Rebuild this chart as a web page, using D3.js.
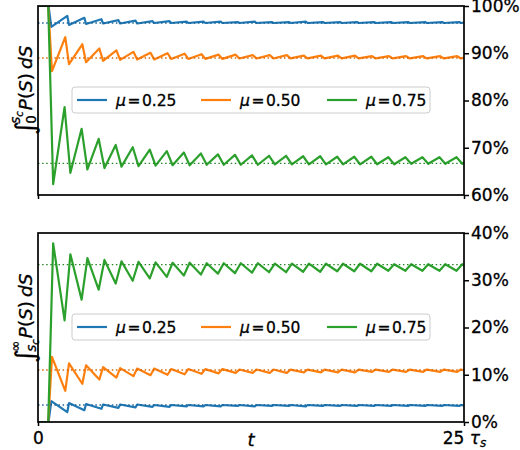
<!DOCTYPE html>
<html>
<head>
<meta charset="utf-8">
<script src="https://cdn.jsdelivr.net/npm/d3@7"></script>
<style>
body { margin: 0; background: #fff; }
text { font-family: "DejaVu Sans", sans-serif; }
</style>
</head>
<body>
<div id="chart"></div>
<script>
// times of the sawtooth corners, in units of tau_s (same for both panels)
var tBlue = [0, 0.62, 0.78,
  1.72, 1.82, 2.72, 2.82, 3.72, 3.82, 4.72, 4.82, 5.72, 5.82,
  6.72, 6.82, 7.72, 7.82, 8.72, 8.82, 9.72, 9.82, 10.72, 10.82,
  11.72, 11.82, 12.72, 12.82, 13.72, 13.82, 14.72, 14.82, 15.72, 15.82,
  16.72, 16.82, 17.72, 17.82, 18.72, 18.82, 19.72, 19.82, 20.72, 20.82,
  21.72, 21.82, 22.72, 22.82, 23.72, 23.82, 24.72, 24.82, 25];
var tOrange = [0, 0.6, 0.82,
  1.6, 1.82, 2.6, 2.82, 3.6, 3.82, 4.6, 4.82, 5.6, 5.82,
  6.6, 6.82, 7.6, 7.82, 8.6, 8.82, 9.6, 9.82, 10.6, 10.82,
  11.6, 11.82, 12.6, 12.82, 13.6, 13.82, 14.6, 14.82, 15.6, 15.82,
  16.6, 16.82, 17.6, 17.82, 18.6, 18.82, 19.6, 19.82, 20.6, 20.82,
  21.6, 21.82, 22.6, 22.82, 23.6, 23.82, 24.6, 24.82, 25];
var tGreen = [0, 0.6, 0.89,
  1.56, 1.9, 2.56, 2.9, 3.56, 3.9, 4.56, 4.9, 5.56, 5.9,
  6.56, 6.9, 7.56, 7.9, 8.56, 8.9, 9.56, 9.9, 10.56, 10.9,
  11.56, 11.9, 12.56, 12.9, 13.56, 13.9, 14.56, 14.9, 15.56, 15.9,
  16.56, 16.9, 17.56, 17.9, 18.56, 18.9, 19.56, 19.9, 20.56, 20.9,
  21.56, 21.9, 22.56, 22.9, 23.56, 23.9, 24.56, 24.9, 25];

// top panel: share below s_c (%)
var belowBlue = [100, 100, 95.6,
  97.9, 96.0, 97.5, 96.2, 97.2, 96.3, 97.0, 96.3, 96.9, 96.3,
  96.8, 96.4, 96.8, 96.4, 96.7, 96.4, 96.7, 96.4, 96.7, 96.4,
  96.6, 96.4, 96.7, 96.4, 96.6, 96.4, 96.6, 96.4, 96.7, 96.4,
  96.6, 96.4, 96.6, 96.4, 96.6, 96.4, 96.6, 96.4, 96.6, 96.4,
  96.6, 96.4, 96.6, 96.4, 96.6, 96.4, 96.6, 96.4, 96.5];
var belowOrange = [100, 100, 86.2,
  93.4, 87.7, 91.9, 88.1, 91.0, 88.4, 90.6, 88.6, 90.3, 88.7,
  90.1, 88.7, 90.0, 88.8, 89.9, 88.8, 89.8, 88.8, 89.7, 88.8,
  89.7, 88.9, 89.6, 88.9, 89.6, 88.9, 89.6, 88.9, 89.5, 88.9,
  89.5, 88.9, 89.5, 88.9, 89.5, 88.9, 89.4, 88.9, 89.4, 88.9,
  89.4, 88.9, 89.4, 88.9, 89.4, 88.9, 89.4, 88.9, 89.1];
var belowGreen = [100, 100, 62.3,
  78.6, 64.7, 74.0, 65.4, 71.9, 65.7, 70.6, 66.0, 70.1, 66.1,
  69.6, 66.2, 69.3, 66.3, 69.0, 66.3, 68.8, 66.4, 68.6, 66.4,
  68.5, 66.4, 68.4, 66.4, 68.3, 66.5, 68.3, 66.5, 68.2, 66.5,
  68.2, 66.5, 68.1, 66.5, 68.1, 66.5, 68.1, 66.5, 68.0, 66.5,
  68.0, 66.6, 68.0, 66.6, 68.0, 66.6, 68.0, 66.6, 66.9];

// bottom panel: share above s_c (%)
var aboveBlue = [0, 0, 4.4,
  2.1, 4.0, 2.5, 3.8, 2.8, 3.7, 3.0, 3.7, 3.1, 3.7,
  3.2, 3.6, 3.2, 3.6, 3.3, 3.6, 3.3, 3.6, 3.3, 3.6,
  3.4, 3.6, 3.3, 3.6, 3.4, 3.6, 3.4, 3.6, 3.3, 3.6,
  3.4, 3.6, 3.4, 3.6, 3.4, 3.6, 3.4, 3.6, 3.4, 3.6,
  3.4, 3.6, 3.4, 3.6, 3.4, 3.6, 3.4, 3.6, 3.5];
var aboveOrange = [0, 0, 13.8,
  6.6, 12.4, 8.1, 12.0, 9.0, 11.6, 9.4, 11.4, 9.7, 11.3,
  9.9, 11.3, 10.0, 11.2, 10.1, 11.2, 10.2, 11.2, 10.3, 11.2,
  10.4, 11.1, 10.4, 11.1, 10.4, 11.1, 10.4, 11.1, 10.5, 11.1,
  10.5, 11.1, 10.5, 11.1, 10.5, 11.1, 10.6, 11.1, 10.6, 11.1,
  10.6, 11.1, 10.6, 11.1, 10.6, 11.1, 10.6, 11.1, 10.9];
var aboveGreen = [0, 0, 37.8,
  21.5, 35.5, 25.9, 34.7, 28.0, 34.3, 29.3, 34.0, 29.9, 33.9,
  30.4, 33.8, 30.7, 33.7, 31.0, 33.7, 31.2, 33.6, 31.4, 33.6,
  31.5, 33.6, 31.6, 33.6, 31.7, 33.5, 31.7, 33.5, 31.8, 33.5,
  31.8, 33.5, 31.9, 33.5, 31.9, 33.5, 31.9, 33.5, 32.0, 33.4,
  32.0, 33.4, 32.0, 33.4, 32.0, 33.4, 32.0, 33.4, 33.1];

// asymptotic levels (dotted)
var levelsBelow = [96.4, 89.0, 66.7];
var levelsAbove = [3.6, 11.0, 33.3];

var muLabels = ["0.25", "0.50", "0.75"];
var colors = ["#1f77b4", "#ff7f0e", "#2ca02c"];
var ticksBelow = [60, 70, 80, 90, 100];
var ticksAbove = [0, 10, 20, 30, 40];
var xTicks = [0, 25];

var width = 520, height = 450;
var left = 38, right = 464;

var svg = d3.select("#chart").append("svg")
  .attr("width", width)
  .attr("height", height);

var x = d3.scaleLinear().domain([0, 25]).range([left, right]);

function heavy(sel) {
  // the reference text is a bit blurred and heavy
  sel.attr("stroke", "#000").attr("stroke-width", 0.3);
}

function panel(id, top, bottom, domain, times, series, levels, ticks, showX, legendY, labelY, lo, hi) {
  var y = d3.scaleLinear().domain(domain).range([bottom, top]);

  svg.append("clipPath").attr("id", id)
    .append("rect").attr("x", left).attr("y", top)
    .attr("width", right - left).attr("height", bottom - top);

  var plot = svg.append("g").attr("clip-path", "url(#" + id + ")");
  var line = d3.line().x(function(d) { return x(d[0]); }).y(function(d) { return y(d[1]); });

  series.forEach(function(vals, i) {
    var pts = times[i].map(function(t, j) { return [t, vals[j]]; });
    plot.append("path")
      .attr("d", line(pts))
      .attr("fill", "none")
      .attr("stroke", colors[i])
      .attr("stroke-width", 2.2)
      .attr("stroke-linejoin", "round");
  });
  levels.forEach(function(v, i) {
    plot.append("line")
      .attr("x1", left).attr("x2", right)
      .attr("y1", y(v)).attr("y2", y(v))
      .attr("stroke", d3.color(colors[i]).darker(0.5))
      .attr("stroke-width", 1.4)
      .attr("stroke-dasharray", "1.5,2.6");
  });

  // right axis
  var ax = svg.append("g")
    .attr("transform", "translate(" + right + ",0)")
    .call(d3.axisRight(y).tickValues(ticks).tickSize(5).tickSizeOuter(0).tickPadding(2)
      .tickFormat(function(d) { return d + "%"; }));
  ax.select(".domain").remove();
  ax.selectAll("line").attr("stroke-width", 1.5);
  ax.selectAll("text").attr("font-size", "17px").attr("font-family", "DejaVu Sans").attr("fill", "#000").call(heavy);

  // bottom axis
  var bx = svg.append("g")
    .attr("transform", "translate(0," + bottom + ")")
    .call(d3.axisBottom(x).tickValues(xTicks).tickSize(4).tickSizeOuter(0).tickPadding(6)
      .tickFormat(function(d) { return showX ? d : ""; }));
  bx.select(".domain").remove();
  bx.selectAll("line").attr("stroke-width", 1.5);
  bx.selectAll("text").attr("font-size", "17px").attr("font-family", "DejaVu Sans").attr("fill", "#000")
    .call(heavy)
    .each(function(d) {
      if (showX && d === 25) {
        var el = d3.select(this).text(null);
        el.append("tspan").text("25 ");
        el.append("tspan").attr("font-style", "italic").text("τ");
        el.append("tspan").attr("font-style", "italic").attr("font-size", "12px").attr("dy", "0.25em").text("s");
      }
    });

  // frame
  svg.append("rect")
    .attr("x", left).attr("y", top)
    .attr("width", right - left).attr("height", bottom - top)
    .attr("fill", "none").attr("stroke", "#000").attr("stroke-width", 1.7);

  // legend
  var lg = svg.append("g");
  lg.append("rect")
    .attr("x", 72).attr("y", legendY - 13)
    .attr("width", 358).attr("height", 26).attr("rx", 3)
    .attr("fill", "#fff").attr("fill-opacity", 0.8)
    .attr("stroke", "#cccccc").attr("stroke-width", 1);
  var lx = [77, 201, 327];
  muLabels.forEach(function(m, i) {
    lg.append("line")
      .attr("x1", lx[i]).attr("x2", lx[i] + 30)
      .attr("y1", legendY).attr("y2", legendY)
      .attr("stroke", colors[i]).attr("stroke-width", 2.2);
    var tx = lg.append("text")
      .attr("x", lx[i] + 39).attr("y", legendY + 5.5)
      .attr("font-size", "15.5px")
      .call(heavy);
    tx.append("tspan").attr("font-style", "italic").text("μ");
    tx.append("tspan").attr("dx", 1.5).text("=");
    tx.append("tspan").attr("dx", 1.5).text(m);
  });

  // y label: integral
  var g = svg.append("g");
  var inner = g.append("g");
  inner.append("text").attr("x", 0).attr("y", 2).attr("font-size", "26px").call(heavy).text("∫");
  function script(pieces, yy) {
    var t = inner.append("text").attr("x", 11).attr("y", yy).attr("font-size", "13.5px").call(heavy);
    pieces.forEach(function(p) {
      var s = t.append("tspan").text(p.t);
      if (p.it) s.attr("font-style", "italic");
      if (p.sub) s.attr("font-size", "10px").attr("dy", "0.3em");
    });
    return t.node().getComputedTextLength();
  }
  var w = Math.max(script(lo, 4), script(hi, -12));
  var main = inner.append("text").attr("x", 11 + w + 1).attr("y", 0).attr("font-size", "18.5px").call(heavy);
  main.append("tspan").attr("font-style", "italic").text("P");
  main.append("tspan").text("(");
  main.append("tspan").attr("font-style", "italic").text("S");
  main.append("tspan").text(")");
  main.append("tspan").attr("font-style", "italic").attr("dx", 4).text("dS");
  var bb = inner.node().getBBox();
  inner.attr("transform", "translate(" + (-bb.x - bb.width / 2) + ",0)");
  g.attr("transform", "translate(32," + labelY + ") rotate(-90)");
}

panel("clipTop", 6, 195, [60, 100], [tBlue, tOrange, tGreen],
  [belowBlue, belowOrange, belowGreen], levelsBelow, ticksBelow, false, 100, 90,
  [{t: "0"}], [{t: "s", it: true}, {t: "c", it: true, sub: true}]);

panel("clipBot", 233, 422, [0, 40], [tBlue, tOrange, tGreen],
  [aboveBlue, aboveOrange, aboveGreen], levelsAbove, ticksAbove, true, 327, 318,
  [{t: "s", it: true}, {t: "c", it: true, sub: true}], [{t: "∞"}]);

svg.append("text")
  .attr("x", (left + right) / 2).attr("y", 446)
  .attr("text-anchor", "middle")
  .attr("font-size", "18px").attr("font-style", "italic")
  .call(heavy)
  .text("t");
</script>
</body>
</html>
